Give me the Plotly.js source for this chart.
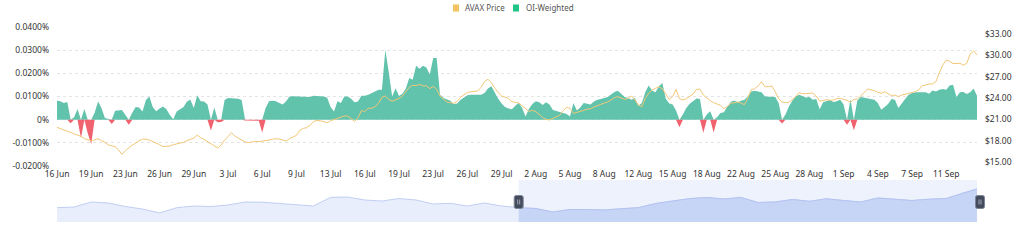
<!DOCTYPE html>
<html>
<head>
<meta charset="utf-8">
<script src="https://cdn.plot.ly/plotly-3.0.1.min.js"></script>
<style>
  html, body { margin: 0; padding: 0; background: #ffffff; }
  #chart { width: 1024px; height: 243px; }
</style>
</head>
<body>
<div id="chart"></div>
<script>
// ---- Data (one point every 8 hours, starting 16 Jun 08:00) ----
const tickLabels = ['16 Jun','19 Jun','23 Jun','26 Jun','29 Jun','3 Jul','6 Jul','9 Jul','13 Jul','16 Jul',
  '19 Jul','23 Jul','26 Jul','29 Jul','2 Aug','5 Aug','8 Aug','12 Aug','15 Aug','18 Aug',
  '22 Aug','25 Aug','28 Aug','1 Sep','4 Sep','7 Sep','11 Sep'];
const tickEvery = 10;

const seriesNames = ['AVAX Price', 'OI-Weighted'];
const seriesColors = ['#f4c25f', '#22c488'];

// OI-weighted funding rate, in percent
const oiWeighted = [
  0.0082,0.0080,0.0072,0.0076,-0.0015,0.0010,0.0046,-0.0079,0.0046,-0.0060,
  -0.0105,0.0030,0.0078,0.0050,0.0007,0.0005,-0.0019,0.0038,0.0040,0.0042,
  0.0020,-0.0022,0.0030,0.0055,0.0052,0.0035,0.0085,0.0100,0.0055,0.0036,
  0.0048,0.0057,0.0045,0.0020,0.0002,0.0035,0.0045,0.0055,0.0078,0.0086,
  0.0050,0.0105,0.0080,0.0078,0.0065,-0.0047,0.0053,-0.0011,-0.0010,0.0085,
  0.0093,0.0093,0.0092,0.0090,0.0085,-0.0004,-0.0004,-0.0004,-0.0004,-0.0005,
  -0.0055,0.0050,0.0080,0.0082,0.0080,0.0072,0.0065,0.0080,0.0100,0.0101,
  0.0101,0.0100,0.0100,0.0100,0.0098,0.0103,0.0103,0.0103,0.0100,0.0095,
  0.0055,0.0035,0.0080,0.0072,0.0100,0.0100,0.0090,0.0075,0.0078,0.0103,
  0.0103,0.0108,0.0115,0.0122,0.0129,0.0129,0.0302,0.0205,0.0100,0.0136,
  0.0102,0.0112,0.0135,0.0180,0.0172,0.0233,0.0220,0.0233,0.0225,0.0195,
  0.0266,0.0266,0.0108,0.0093,0.0088,0.0082,0.0068,0.0070,0.0086,0.0096,
  0.0105,0.0108,0.0108,0.0108,0.0108,0.0115,0.0135,0.0144,0.0115,0.0090,
  0.0070,0.0055,0.0048,0.0045,0.0060,0.0072,0.0050,0.0014,0.0047,0.0068,
  0.0079,0.0075,0.0063,0.0075,0.0065,0.0042,0.0037,0.0033,0.0027,0.0024,
  0.0014,0.0072,0.0040,0.0052,0.0072,0.0070,0.0066,0.0078,0.0086,0.0089,
  0.0093,0.0098,0.0109,0.0119,0.0125,0.0111,0.0098,0.0093,0.0086,0.0093,
  0.0060,0.0072,0.0118,0.0147,0.0126,0.0118,0.0144,0.0158,0.0090,0.0070,
  0.0065,0.0040,-0.0033,0.0022,0.0050,0.0069,0.0082,0.0091,0.0089,-0.0057,
  0.0022,0.0036,-0.0055,0.0010,0.0029,0.0032,0.0057,0.0076,0.0083,0.0075,
  0.0082,0.0086,0.0100,0.0122,0.0125,0.0122,0.0118,0.0100,0.0099,0.0098,
  0.0098,0.0072,-0.0017,0.0022,0.0057,0.0082,0.0100,0.0108,0.0103,0.0096,
  0.0098,0.0086,0.0089,0.0045,0.0075,0.0080,0.0085,0.0076,0.0079,0.0086,
  0.0065,-0.0022,0.0089,-0.0046,0.0083,0.0098,0.0095,0.0092,0.0088,0.0086,
  0.0072,0.0043,0.0055,0.0068,0.0089,0.0086,0.0050,0.0072,0.0089,0.0108,
  0.0115,0.0118,0.0118,0.0115,0.0118,0.0112,0.0126,0.0122,0.0129,0.0132,
  0.0129,0.0147,0.0151,0.0098,0.0118,0.0119,0.0111,0.0118,0.0134,0.0103
];

// AVAX price, USD
const avaxPrice = [
  19.88,19.70,19.50,19.30,19.10,19.00,18.80,18.60,18.28,18.10,
  18.00,18.10,18.28,18.00,17.77,17.40,17.25,17.16,16.70,16.07,
  16.60,17.07,17.40,17.63,18.00,18.19,18.23,18.09,17.91,17.63,
  17.44,17.16,17.20,17.25,17.44,17.53,17.63,17.77,18.00,18.19,
  18.37,18.80,18.42,18.19,17.91,17.53,17.25,16.97,17.40,18.09,
  18.56,19.13,18.65,18.37,18.00,17.81,17.72,17.86,17.91,17.86,
  17.91,18.00,18.09,18.19,18.28,18.23,18.14,17.95,18.28,18.47,
  18.75,19.45,19.73,19.83,20.16,20.67,20.86,20.81,20.67,20.53,
  20.81,21.00,21.10,21.33,21.47,21.47,21.10,20.72,21.19,22.22,
  22.12,22.55,22.55,22.78,23.25,24.10,24.28,23.81,23.53,23.72,
  23.95,24.28,24.84,25.50,25.78,25.73,25.92,25.69,25.73,25.31,
  25.64,25.22,24.28,23.81,23.43,23.34,23.25,23.53,24.10,24.47,
  24.75,24.89,24.89,24.98,25.50,26.30,26.63,26.16,25.41,24.75,
  24.28,24.10,23.95,23.48,23.34,23.30,22.90,22.50,22.12,22.26,
  22.08,21.70,21.23,21.00,20.91,21.14,21.33,21.56,22.22,22.69,
  22.55,21.84,21.98,22.17,22.26,22.41,22.50,22.73,22.97,23.10,
  23.29,23.43,23.72,24.05,24.19,24.00,23.81,23.95,24.28,23.72,
  23.01,22.78,23.95,24.66,25.12,25.36,25.55,25.31,24.56,23.81,
  24.19,25.22,23.90,23.72,23.90,24.19,24.56,25.22,25.22,24.42,
  23.95,23.62,23.34,23.20,22.97,22.50,22.78,23.25,23.34,23.43,
  23.29,23.06,24.00,25.17,25.31,25.69,26.30,25.59,25.59,25.69,
  24.89,23.90,23.43,23.34,23.39,23.81,24.19,24.75,24.61,24.61,
  24.66,24.70,24.28,23.58,23.62,23.76,23.67,23.72,23.90,23.95,
  23.81,23.67,23.39,23.81,23.86,24.28,24.75,25.27,25.17,25.03,
  24.80,24.66,24.89,24.61,24.33,24.42,24.19,24.42,24.56,24.66,
  24.75,24.89,25.17,25.73,25.83,25.97,25.97,26.30,27.56,28.64,
  29.34,29.16,28.83,28.83,28.88,28.60,28.88,30.19,30.61,30.05
];

// Overview (data-zoom shadow) series, sampled at these point indices
const overviewIdx = [0,5,10,15,20,25,30,35,40,45,50,55,60,65,70,75,80,85,90,95,100,105,110,115,120,125,130,
  135,140,145,150,155,160,165,170,175,180,185,190,195,200,205,210,215,220,225,230,235,240,245,250,255,260,265,269];
const overviewVal = [14.3,15,20,19,15.5,13,9,14.3,16,15.5,17,20,19.8,18.7,17.5,16,24.7,25,22,21,23.5,22,18,18.7,16,19,16,
  14.3,13.5,10,12.5,12.5,12,13.3,14.3,18.5,21,23.4,24.5,23,24.5,19.5,20,22.5,20.7,23.2,21.5,20,24,22.7,21.5,22.8,23.5,29,33];
const zoomStart = 135;   // selected window start (point index)

const leftTicks = [-0.02,-0.01,0,0.01,0.02,0.03,0.04];
const leftTickText = ['-0.0200%','-0.0100%','0%','0.0100%','0.0200%','0.0300%','0.0400%'];

// ---- Build traces ----
const n = oiWeighted.length;
const idx = oiWeighted.map((_, i) => i);
const lastIdx = n - 1;
const pos = oiWeighted.map(v => v > 0 ? v : 0);
const neg = oiWeighted.map(v => v < 0 ? v : 0);
const tickvals = tickLabels.map((_, k) => k * tickEvery);

const selIdx = [], selVal = [];
overviewIdx.forEach((ix, k) => { if (ix >= zoomStart) { selIdx.push(ix); selVal.push(overviewVal[k]); } });

const traces = [
  { type:'scatter', mode:'lines', name: seriesNames[1] + ' (+)', x: idx, y: pos, fill:'tozeroy', fillcolor:'#62c3ad',
    line:{width:0, color:'#62c3ad'}, showlegend:false, hoverinfo:'skip', xaxis:'x', yaxis:'y' },
  { type:'scatter', mode:'lines', name: seriesNames[1] + ' (-)', x: idx, y: neg, fill:'tozeroy', fillcolor:'#f1626f',
    line:{width:0, color:'#f1626f'}, showlegend:false, hoverinfo:'skip', xaxis:'x', yaxis:'y' },
  { type:'scatter', mode:'lines', name: seriesNames[0], x: idx, y: avaxPrice, line:{width:1, color:'#f2c777'},
    showlegend:false, hoverinfo:'skip', xaxis:'x', yaxis:'y2' },
  // overview slider shadow
  { type:'scatter', mode:'lines', x: overviewIdx, y: overviewVal, fill:'tozeroy', fillcolor:'#e9eefc',
    line:{width:0.8, color:'#b3c4f0'}, showlegend:false, hoverinfo:'skip', xaxis:'x2', yaxis:'y3' },
  { type:'scatter', mode:'lines', x: selIdx, y: selVal, fill:'tozeroy', fillcolor:'#c6d4f5',
    line:{width:0.8, color:'#aebff0'}, showlegend:false, hoverinfo:'skip', xaxis:'x2', yaxis:'y3' }
];

if (avaxPrice.length !== n) console.error('length mismatch', n, avaxPrice.length);

// ---- Layout helpers (pixel -> paper) ----
const M = {l:57, r:47, t:27, b:21};
const plotW = 1024 - M.l - M.r, plotH = 243 - M.t - M.b;
const px = v => (v - M.l) / plotW;
const py = v => (243 - M.b - v) / plotH;

const handleY = py(202);
function handle(xp) {
  return [
    { type:'path', xref:'paper', yref:'paper', xsizemode:'pixel', ysizemode:'pixel',
      xanchor: xp, yanchor: handleY,
      path:'M -2.5,-6.5 L 2.5,-6.5 Q 4.5,-6.5 4.5,-4.5 L 4.5,4.5 Q 4.5,6.5 2.5,6.5 L -2.5,6.5 Q -4.5,6.5 -4.5,4.5 L -4.5,-4.5 Q -4.5,-6.5 -2.5,-6.5 Z',
      fillcolor:'#434b5c', line:{width:1, color:'#7d8598'}, layer:'above' },
    { type:'path', xref:'paper', yref:'paper', xsizemode:'pixel', ysizemode:'pixel',
      xanchor: xp, yanchor: handleY, path:'M -1,-2.5 L -1,2.5 M 1,-2.5 L 1,2.5',
      line:{width:0.7, color:'#c9ced9'}, layer:'above' }
  ];
}

// Legend (colour swatch + label), centred above the chart
const legendSwatchX = [456, 516];
const legendTextX = [463, 524];
const legendShapes = seriesNames.map((nm, k) => ({
  type:'rect', xref:'paper', yref:'paper', xsizemode:'pixel', ysizemode:'pixel',
  xanchor: px(legendSwatchX[k]), yanchor: py(8), x0:-3, x1:3, y0:-3.5, y1:3.5,
  fillcolor: seriesColors[k], line:{width:0}
}));
const legendAnnots = seriesNames.map((nm, k) => ({
  xref:'paper', yref:'paper', x: px(legendTextX[k]), y: py(8), xanchor:'left', yanchor:'middle',
  text: nm, showarrow:false, font:{size:8, color:'#555555'}
}));

const layout = {
  width: 1024, height: 243,
  margin: {l:M.l, r:M.r, t:M.t, b:M.b, pad:0, autoexpand:false},
  paper_bgcolor:'#ffffff', plot_bgcolor:'#ffffff',
  font: {family:'"Noto Sans", "Open Sans", sans-serif', size:8.5, color:'#333333'},
  showlegend: false,
  xaxis: {domain:[0,1], range:[0, lastIdx], anchor:'y', tickmode:'array', tickvals: tickvals, ticktext: tickLabels,
    showgrid:false, zeroline:false, showline:false, ticks:'', ticklabelstandoff:1,
    tickfont:{size:8.5, color:'#333333'}, fixedrange:true},
  yaxis: {domain:[py(166),1], range:[-0.02,0.04], tickmode:'array', tickvals:leftTicks, ticktext:leftTickText,
    showgrid:true, gridcolor:'#e4e4e4', griddash:'3px,3px', gridwidth:1, zeroline:false, showline:false,
    ticks:'', ticklabelstandoff:7, tickfont:{size:8.5, color:'#333333'}},
  yaxis2: {overlaying:'y', side:'right', anchor:'x', range:[14.44,33.98], tickmode:'linear', tick0:15, dtick:3,
    tickprefix:'$', tickformat:'.2f', showgrid:false, zeroline:false, showline:false, ticks:'',
    ticklabelstandoff:7, tickfont:{size:8.5, color:'#333333'}},
  xaxis2: {domain:[0,1], range:[0, lastIdx], anchor:'y3', visible:false},
  yaxis3: {domain:[0,py(180)], range:[0,42], anchor:'x2', visible:false},
  annotations: legendAnnots,
  shapes: [
    { type:'rect', xref:'x2', yref:'y3 domain', x0: zoomStart, x1: lastIdx, y0:0, y1:1,
      fillcolor:'#eef2fd', line:{width:0}, layer:'below' }
  ].concat(handle(zoomStart / lastIdx), handle(1 + 3 / plotW), legendShapes)
};

Plotly.newPlot('chart', traces, layout, {staticPlot:true, displayModeBar:false});
</script>
</body>
</html>
